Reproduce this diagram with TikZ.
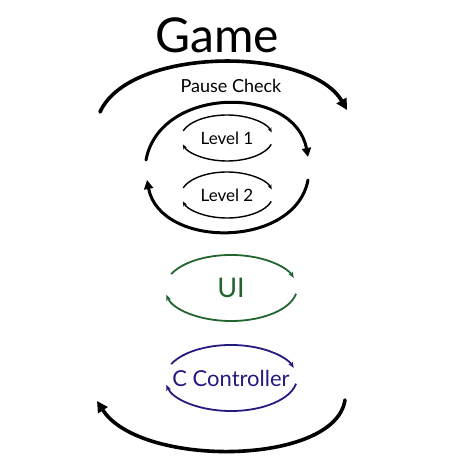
\documentclass[tikz,border=0pt]{standalone}
\usepackage{fontspec}
\setmainfont{Lato}
\usetikzlibrary{arrows.meta,calc}
\definecolor{uigreen}{RGB}{34,100,48}
\definecolor{ctrlblue}{RGB}{36,26,128}
\tikzset{
	bigloop/.style={line width=3.6pt,line cap=round,-{Triangle[length=11pt,width=11pt]}},
	midloop/.style={line width=3pt,line cap=round,-{Triangle[length=9pt,width=9pt]}},
	smallloop/.style={line width=1.4pt,-{Stealth[length=5pt,width=4pt]}},
	wideloop/.style={line width=1.8pt,-{Stealth[length=6pt,width=5pt]}}
}
\begin{document}
\begin{tikzpicture}[x=1pt,y=1pt]
	\useasboundingbox (0,0) rectangle (474,474);
	\node (game) at (217,439) {\fontsize{48}{50}\selectfont Game};
	\node (pause) at (231,388) {\fontsize{18}{20}\selectfont Pause Check};
	\node (lvlone) at (227,336) {\fontsize{17}{19}\selectfont Level 1};
	\node (lvltwo) at (227,279) {\fontsize{17}{19}\selectfont Level 2};
	\node[text=uigreen] (ui) at (231,186) {\fontsize{27}{29}\selectfont UI};
	\node[text=ctrlblue] (ctrl) at (231,96) {\fontsize{22}{24}\selectfont C Controller};
	% outer loops
	\coordinate (topl) at (100,362);
	\coordinate (topr) at (347,364);
	\coordinate (midl) at (146,314);
	\coordinate (midr) at (308,317);
	\coordinate (lowr) at (308,294);
	\coordinate (lowl) at (147,294);
	\coordinate (botr) at (345,74);
	\coordinate (botl) at (97,73);
	\draw[bigloop] (topl) .. controls (130,428) and (310,428) .. (topr);
	\draw[midloop] (midl) .. controls (160,389) and (295,389) .. (midr);
	\draw[midloop] (lowr) .. controls (295,225) and (160,225) .. (lowl);
	\draw[bigloop] (botr) .. controls (335,8) and (140,6) .. (botl);
	% level loops
	\foreach \lvl in {lvlone,lvltwo}{
		\draw[smallloop] ($(\lvl)+(162:46pt and 23pt)$) arc[start angle=162,end angle=14,x radius=46pt,y radius=23pt];
		\draw[smallloop] ($(\lvl)+(-16:46pt and 23pt)$) arc[start angle=-16,end angle=-164,x radius=46pt,y radius=23pt];
	}
	% ui and controller loops
	\draw[wideloop,uigreen] ($(ui)+(155:66pt and 33pt)$) arc[start angle=155,end angle=18,x radius=66pt,y radius=33pt];
	\draw[wideloop,uigreen] ($(ui)+(-10:66pt and 33pt)$) arc[start angle=-10,end angle=-168,x radius=66pt,y radius=33pt];
	\draw[wideloop,ctrlblue] ($(ctrl)+(155:66pt and 33pt)$) arc[start angle=155,end angle=18,x radius=66pt,y radius=33pt];
	\draw[wideloop,ctrlblue] ($(ctrl)+(-10:66pt and 33pt)$) arc[start angle=-10,end angle=-168,x radius=66pt,y radius=33pt];
\end{tikzpicture}
\end{document}
